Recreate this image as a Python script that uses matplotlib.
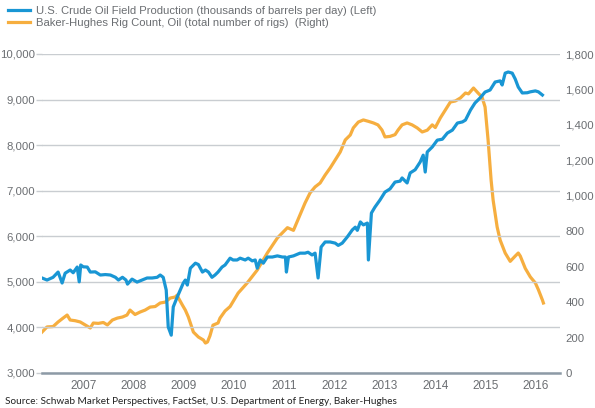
import matplotlib
matplotlib.use("Agg")
import matplotlib.pyplot as plt
from matplotlib.ticker import FuncFormatter, MultipleLocator

# Production (thousands of barrels per day), decimal year -> value
prod_years = [2006.18, 2006.28, 2006.40, 2006.50, 2006.58, 2006.64, 2006.74, 2006.80, 2006.88, 2006.92,
              2006.95, 2007.00, 2007.08, 2007.14, 2007.24, 2007.34, 2007.44, 2007.54, 2007.64, 2007.70,
              2007.78, 2007.85, 2007.88, 2007.97, 2008.07, 2008.17, 2008.27, 2008.37, 2008.47, 2008.53,
              2008.59, 2008.65, 2008.69, 2008.75, 2008.79, 2008.87, 2008.93, 2008.99, 2009.03, 2009.07,
              2009.13, 2009.23, 2009.29, 2009.37, 2009.43, 2009.49, 2009.56, 2009.62, 2009.68, 2009.76,
              2009.82, 2009.92, 2009.98, 2010.06, 2010.12, 2010.22, 2010.28, 2010.36, 2010.42, 2010.46,
              2010.52, 2010.58, 2010.66, 2010.76, 2010.86, 2010.96, 2011.02, 2011.04, 2011.08, 2011.18,
              2011.31, 2011.41, 2011.47, 2011.55, 2011.61, 2011.67, 2011.73, 2011.81, 2011.91, 2012.01,
              2012.07, 2012.15, 2012.25, 2012.35, 2012.41, 2012.45, 2012.51, 2012.57, 2012.65, 2012.67,
              2012.73, 2012.80, 2012.90, 2013.00, 2013.10, 2013.20, 2013.30, 2013.34, 2013.44, 2013.50,
              2013.60, 2013.70, 2013.76, 2013.80, 2013.84, 2013.94, 2014.04, 2014.14, 2014.24, 2014.34,
              2014.44, 2014.54, 2014.60, 2014.70, 2014.79, 2014.89, 2014.99, 2015.09, 2015.19, 2015.29,
              2015.33, 2015.39, 2015.45, 2015.53, 2015.59, 2015.65, 2015.73, 2015.83, 2015.89, 2015.99,
              2016.05, 2016.13]
prod_values = [5085, 5040, 5100, 5215, 4975, 5190, 5260, 5200, 5325, 5000,
               5370, 5330, 5325, 5215, 5220, 5150, 5160, 5150, 5100, 5040,
               5100, 5040, 4950, 5060, 4995, 5040, 5085, 5085, 5100, 5150,
               5100, 4820, 4010, 3830, 4450, 4670, 4820, 4975, 5040, 4930,
               5300, 5410, 5380, 5215, 5260, 5215, 5100, 5150, 5215, 5325,
               5370, 5520, 5480, 5480, 5520, 5480, 5520, 5460, 5480, 5300,
               5480, 5410, 5545, 5545, 5570, 5545, 5545, 5215, 5545, 5570,
               5630, 5630, 5650, 5590, 5630, 5085, 5765, 5875, 5875, 5850,
               5800, 5850, 5985, 6140, 6200, 6130, 6315, 6250, 6290, 5480,
               6510, 6640, 6795, 6970, 7040, 7190, 7210, 7280, 7170, 7390,
               7460, 7630, 7780, 7410, 7850, 7960, 8110, 8130, 8265, 8330,
               8485, 8510, 8550, 8770, 8925, 9035, 9165, 9210, 9385, 9410,
               9320, 9580, 9605, 9580, 9450, 9275, 9145, 9150, 9170, 9190,
               9170, 9100]

# Baker-Hughes oil rig count
rig_years = [2006.18, 2006.28, 2006.40, 2006.50, 2006.60, 2006.68, 2006.74, 2006.84, 2006.94, 2007.04,
             2007.14, 2007.20, 2007.30, 2007.40, 2007.48, 2007.58, 2007.68, 2007.78, 2007.87, 2007.93,
             2008.03, 2008.13, 2008.23, 2008.33, 2008.43, 2008.53, 2008.63, 2008.73, 2008.83, 2008.87,
             2008.89, 2008.97, 2009.03, 2009.09, 2009.19, 2009.29, 2009.39, 2009.43, 2009.47, 2009.52,
             2009.58, 2009.68, 2009.72, 2009.82, 2009.92, 2010.08, 2010.26, 2010.46, 2010.66, 2010.86,
             2011.06, 2011.18, 2011.31, 2011.41, 2011.51, 2011.61, 2011.71, 2011.81, 2011.91, 2012.01,
             2012.11, 2012.21, 2012.31, 2012.37, 2012.47, 2012.57, 2012.67, 2012.77, 2012.86, 2012.94,
             2013.00, 2013.10, 2013.20, 2013.26, 2013.34, 2013.44, 2013.54, 2013.64, 2013.74, 2013.84,
             2013.94, 2014.00, 2014.10, 2014.20, 2014.30, 2014.40, 2014.50, 2014.60, 2014.66, 2014.76,
             2014.85, 2014.93, 2014.99, 2015.05, 2015.11, 2015.15, 2015.23, 2015.29, 2015.39, 2015.49,
             2015.59, 2015.65, 2015.69, 2015.79, 2015.89, 2015.99, 2016.05, 2016.13, 2016.15]
rig_counts = [231, 260, 262, 288, 310, 327, 299, 295, 288, 271,
              254, 282, 280, 285, 271, 299, 310, 316, 327, 355,
              330, 344, 355, 372, 375, 395, 400, 423, 429, 440,
              425, 384, 355, 316, 231, 203, 186, 169, 175, 210,
              270, 282, 310, 350, 375, 451, 508, 581, 677, 762,
              820, 805, 892, 959, 1016, 1050, 1072, 1117, 1157, 1202,
              1247, 1315, 1343, 1383, 1416, 1428, 1420, 1411, 1400, 1371,
              1332, 1335, 1345, 1371, 1400, 1411, 1400, 1383, 1360, 1370,
              1400, 1385, 1439, 1484, 1529, 1535, 1552, 1580, 1575, 1608,
              1580, 1557, 1501, 1315, 1089, 976, 824, 750, 677, 630,
              660, 677, 660, 590, 542, 508, 470, 412, 395]

year_ticks = list(range(2007, 2017))
left_ticks = list(range(3000, 10001, 1000))

BLUE = "#1996d4"
ORANGE = "#f6ae3f"
GRID = "#c9cdd1"
TXT = "#6b6e72"

plt.rcParams["font.family"] = ["Liberation Sans", "DejaVu Sans"]

fig = plt.figure(figsize=(5.95, 4.08), dpi=100)
ax = fig.add_axes([42 / 595, 35 / 408, 518 / 595, 319 / 408])
ax2 = ax.twinx()

ax.set_xlim(2006.18, 2016.48)
ax.set_ylim(3000, 10000)
ax2.set_ylim(0, 1800)

ax.set_yticks(left_ticks)
ax.yaxis.set_major_formatter(FuncFormatter(lambda v, p: f"{int(v):,}"))
ax.grid(axis="y", color=GRID, linewidth=1.0)
ax.set_axisbelow(True)
ax.set_xticks(year_ticks)
ax.tick_params(axis="x", length=0, pad=5, labelsize=8.5, labelcolor=TXT)
ax.tick_params(axis="y", length=4, width=1.0, color=GRID, pad=1, labelsize=8.2, labelcolor=TXT)

ax2.yaxis.set_major_locator(MultipleLocator(200))
ax2.yaxis.set_major_formatter(FuncFormatter(lambda v, p: f"{int(v):,}"))
ax2.tick_params(axis="y", length=0, pad=4, labelsize=8.2, labelcolor=TXT)

for a in (ax, ax2):
    for s in ("top", "left", "right", "bottom"):
        a.spines[s].set_visible(False)
ax.spines["bottom"].set_visible(True)
ax.spines["bottom"].set_color("#8d9aa6")
ax.spines["bottom"].set_linewidth(1.8)

l1, = ax.plot(prod_years, prod_values, color=BLUE, linewidth=2.3, solid_joinstyle="round",
              label="U.S. Crude Oil Field Production (thousands of barrels per day) (Left)")
l2, = ax2.plot(rig_years, rig_counts, color=ORANGE, linewidth=2.3, solid_joinstyle="round",
               label="Baker-Hughes Rig Count, Oil (total number of rigs)  (Right)")
ax.set_zorder(ax2.get_zorder() + 1)
ax.patch.set_visible(False)

fig.legend(handles=[l1, l2], loc="upper left", bbox_to_anchor=(0.0, 1.005), frameon=False,
           fontsize=8.1, handlelength=2.0, handletextpad=0.5, labelspacing=0.2,
           labelcolor=TXT, borderaxespad=0.3)

fig.text(5 / 595, 1 - 401 / 408, "Source: Schwab Market Perspectives, FactSet, U.S. Department of Energy, Baker-Hughes",
         fontsize=7.2, family=["Lato", "DejaVu Sans"], color="#222222", va="center", ha="left")

fig.savefig("out.png", dpi=100)
